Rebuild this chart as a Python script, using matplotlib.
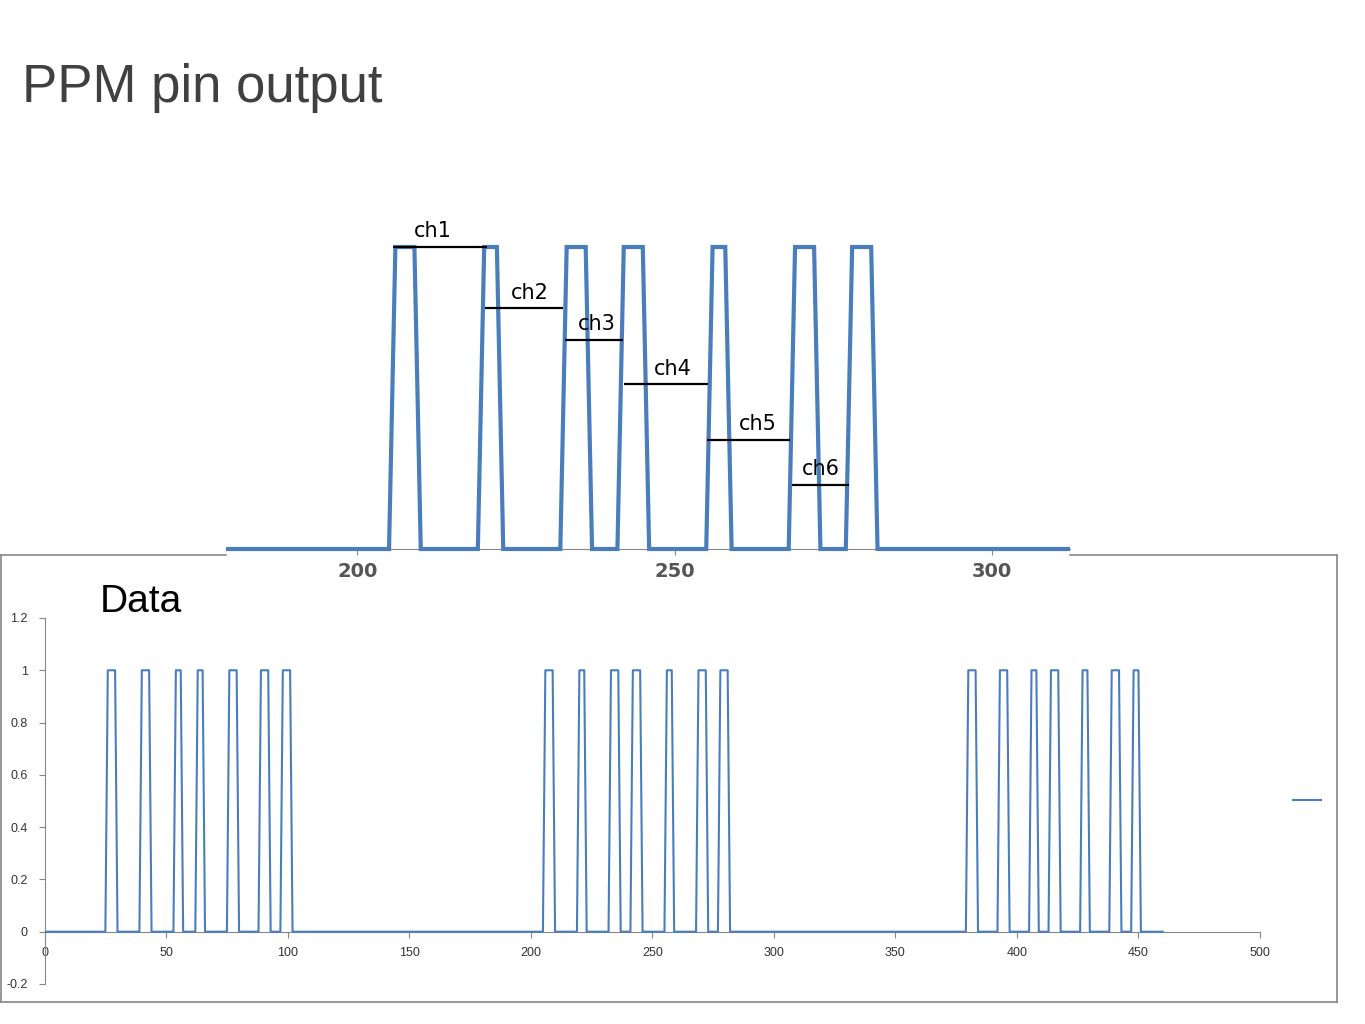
#!/usr/bin/env python3
"""PPM pin output: zoomed view of one frame (top) and the full capture (bottom)."""

import matplotlib.pyplot as plt
from matplotlib.lines import Line2D

W, H = 1365, 1024

# pulse edges read off the capture: last low sample before the rise,
# first low sample after the fall (one sample per x unit)
pulse_start = [25, 39, 53, 62, 75, 88, 97,
               205, 219, 232, 241, 255, 268, 277,
               379, 392, 405, 413, 426, 438, 447]
pulse_end = [30, 44, 57, 66, 80, 93, 102,
             210, 223, 237, 246, 259, 273, 282,
             384, 397, 409, 418, 430, 443, 451]
last_sample = 460

# channel markers on the zoomed frame
ch_labels = ["ch1", "ch2", "ch3", "ch4", "ch5", "ch6"]
ch_x0 = [205.6, 220.1, 232.7, 242.1, 255.1, 268.5]
ch_x1 = [220.4, 232.5, 241.9, 255.3, 268.2, 277.5]
ch_level = [1.0, 0.797, 0.692, 0.545, 0.362, 0.212]
ch_text_x = [211.9, 227.2, 237.7, 249.7, 263.2, 273.1]

zoom_ticks = [200, 250, 300]
data_xticks = list(range(0, 501, 50))
data_yticks = [-0.2, 0, 0.2, 0.4, 0.6, 0.8, 1, 1.2]
data_yticklabels = ["-0.2", "0", "0.2", "0.4", "0.6", "0.8", "1", "1.2"]

BLUE = "#4A7EBB"
GREY = "#868686"
SANS = ["Liberation Sans", "DejaVu Sans"]


def fx(px):
    return px / W


def fy(py):
    return 1 - py / H


def signal():
    xs, ys = [0], [0]
    for s, e in zip(pulse_start, pulse_end):
        xs += [s, s + 1, e - 1, e]
        ys += [0, 1, 1, 0]
    xs.append(last_sample)
    ys.append(0)
    return xs, ys


def main():
    xs, ys = signal()
    fig = plt.figure(figsize=(W / 100, H / 100), dpi=100)

    # outer frame of the "Data" chart (the zoomed frame sits over its top edge)
    for (x0, y0), (x1, y1) in [((0.5, 555), (0.5, 1002)), ((0.5, 1002), (1337, 1002)),
                               ((1337, 1002), (1337, 555)), ((0.5, 555), (226, 555)),
                               ((1070, 555), (1337, 555))]:
        fig.add_artist(Line2D([fx(x0), fx(x1)], [fy(y0), fy(y1)], color=GREY, lw=1.2))

    # bottom: full capture
    ax = fig.add_axes([fx(44.6), fy(984), fx(1260 - 44.6), (984 - 618) / H])
    line, = ax.plot(xs, ys, color=BLUE, lw=1.5, zorder=3)
    ax.set_xlim(0, 500)
    ax.set_ylim(-0.2, 1.2)
    for side in ("top", "right"):
        ax.spines[side].set_visible(False)
    ax.spines["bottom"].set_position(("data", 0))
    for side in ("left", "bottom"):
        ax.spines[side].set_color(GREY)
    ax.set_xticks(data_xticks)
    ax.set_xticklabels([str(t) for t in data_xticks], family=SANS, fontsize=9)
    ax.set_yticks(data_yticks)
    ax.set_yticklabels(data_yticklabels, family=SANS, fontsize=9)
    ax.tick_params(length=4, color=GREY, labelcolor="#333333")
    ax.tick_params(axis="x", pad=7)
    ax.tick_params(axis="y", pad=8)
    ax.legend(handles=[line], labels=[""], loc="center left", frameon=False,
              bbox_to_anchor=(fx(1293), fy(801)), bbox_transform=fig.transFigure,
              borderpad=0, borderaxespad=0, handletextpad=0, handlelength=2.0)

    # top: zoom on the second frame
    az = fig.add_axes([fx(226), fy(564.1), fx(1070 - 226), 332.2 / H])
    az.plot(xs, ys, color=BLUE, lw=3, zorder=3, solid_joinstyle="miter")
    az.set_xlim(179.3, 312.34)
    az.set_ylim(-0.05, 1.05)
    for side in ("top", "right", "left"):
        az.spines[side].set_visible(False)
    az.spines["bottom"].set_position(("data", 0))
    az.spines["bottom"].set_color(GREY)
    az.set_yticks([])
    az.set_xticks(zoom_ticks)
    az.set_xticklabels([str(t) for t in zoom_ticks], fontsize=14, fontweight="bold",
                       family="DejaVu Sans")
    az.tick_params(axis="x", length=4.5, color=GREY, labelcolor="#555555", pad=5)
    az.patch.set_alpha(0)

    for lab, x0, x1, lev, tx in zip(ch_labels, ch_x0, ch_x1, ch_level, ch_text_x):
        az.plot([x0, x1], [lev, lev], color="black", lw=1.6, zorder=4,
                solid_capstyle="butt")
        az.annotate(lab, xy=(tx, lev), xytext=(0, 7), textcoords="offset points",
                    ha="center", va="baseline", fontsize=15, color="black")

    fig.text(fx(22), fy(102), "PPM pin output", va="baseline", ha="left",
             fontsize=38, color="#404040", family=SANS)
    fig.text(fx(100), fy(612), "Data", va="baseline", ha="left",
             fontsize=28, color="black", family=SANS)

    fig.savefig("out.png", dpi=100)
    plt.close(fig)


if __name__ == "__main__":
    main()
